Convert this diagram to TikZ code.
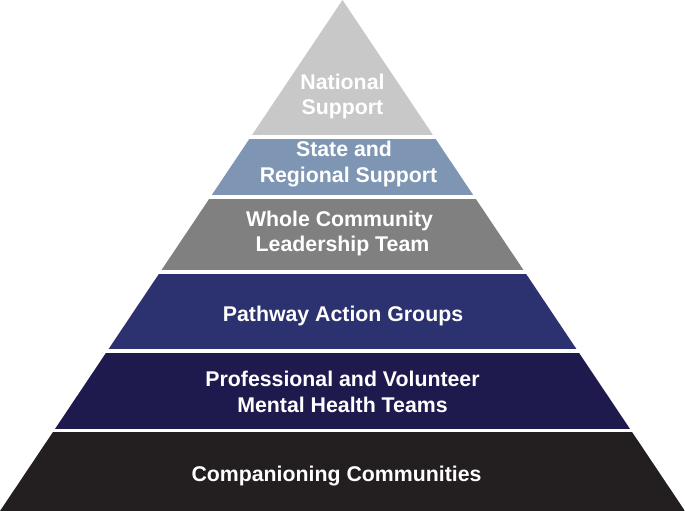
\documentclass[tikz,border=0pt]{standalone}
\usepackage{fontspec}
\setmainfont{Liberation Sans}
\definecolor{cNat}{HTML}{C8C8C8}
\definecolor{cState}{HTML}{7E96B4}
\definecolor{cWhole}{HTML}{808080}
\definecolor{cPath}{HTML}{2C3170}
\definecolor{cProf}{HTML}{1E1A4E}
\definecolor{cComp}{HTML}{231F20}
\begin{document}
\begin{tikzpicture}[x=1pt,y=-1pt,
  lbl/.style={text=white,font=\fontsize{21.3}{25.3}\selectfont\bfseries,align=center,inner sep=0pt}]
\useasboundingbox (0,0) rectangle (685,511);
\begin{scope}
\clip (342.5,0) -- (685,511) -- (0,511) -- cycle;
\fill[cNat] (0,0) rectangle (685,135);
\fill[cState] (0,138.5) rectangle (685,195);
\fill[cWhole] (0,199) rectangle (685,270);
\fill[cPath] (0,274) rectangle (685,349);
\fill[cProf] (0,352.5) rectangle (685,428.5);
\fill[cComp] (0,432) rectangle (685,511);
\end{scope}
\node[lbl] (nat) at (342.5,96.5) {National\\Support};
\node[lbl] (state) at (344,164) {State and\\\hspace*{9pt}Regional Support};
\node[lbl] (whole) at (342.5,233.5) {Whole Community\hspace*{6pt}\\Leadership Team};
\node[lbl] (path) at (343,316) {Pathway Action Groups};
\node[lbl] (prof) at (342.5,392) {Professional and Volunteer\\Mental Health Teams};
\node[lbl] (comp) at (336.5,476) {Companioning Communities};
\end{tikzpicture}
\end{document}
